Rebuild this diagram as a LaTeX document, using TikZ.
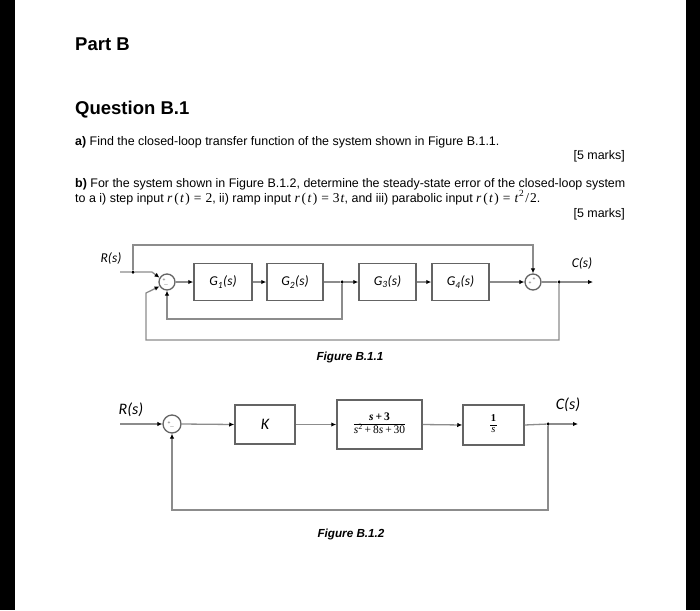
\documentclass[tikz,border=0pt]{standalone}
\usepackage{fontspec}
\setmainfont{Liberation Sans}
\newfontfamily\carl{Carlito}
\newfontfamily\tnr{Liberation Serif}
\usetikzlibrary{arrows.meta}
\definecolor{lin}{RGB}{140,140,140}
\definecolor{edge}{RGB}{100,100,100}
\newcommand{\mth}[1]{{\tnr\fontsize{13.5}{14}\selectfont #1}}
\newcommand{\rofT}{\textit{r}\kern1.8pt(\kern1.3pt\textit{t}\kern1.3pt)\kern4pt=\kern4pt}
\begin{document}
\begin{tikzpicture}[x=1pt,y=-1pt,
  wire/.style={draw=lin, line width=1.3pt},
  arr/.style={wire, -{Latex[length=5pt,width=4.5pt,color=black]}},
  blk/.style={draw=edge, line width=1.5pt, fill=white, inner sep=0pt},
  sumj/.style={circle, draw=edge, line width=1.3pt, minimum size=16pt, inner sep=0pt, fill=white},
  jdot/.style={circle, fill=black, inner sep=0pt, minimum size=3.5pt},
  sgn/.style={inner sep=0pt, font=\fontsize{5}{5}\selectfont, text=black!70},
  lab/.style={inner sep=0pt, font=\carl\itshape\fontsize{13.5}{15}\selectfont},
  labb/.style={inner sep=0pt, font=\carl\itshape\fontsize{16}{17}\selectfont},
  txt/.style={inner sep=0pt, anchor=base west, font=\fontsize{12.45}{14}\selectfont},
  txtr/.style={inner sep=0pt, anchor=base east, font=\fontsize{12.45}{14}\selectfont},
  head/.style={inner sep=0pt, anchor=base west, font=\bfseries\fontsize{18.5}{20}\selectfont},
  figl/.style={inner sep=0pt, font=\bfseries\itshape\fontsize{11.7}{13}\selectfont},
]
\useasboundingbox (0,0) rectangle (700,610);
\fill[white] (0,0) rectangle (700,610);
\fill[black] (0,0) rectangle (15,610);
\fill[black] (686,0) rectangle (700,610);

% ---- text ----
\node[head] (partb) at (75,51) {Part B};
\node[head] (quest) at (75,114) {Question B.1};
\node[txt] (qa) at (75,145) {\textbf{a)} Find the closed-loop transfer function of the system shown in Figure B.1.1.};
\node[txtr] (ma) at (625,159) {[5 marks]};
\node[txt] (qb1) at (75,187) {\textbf{b)} For the system shown in Figure B.1.2, determine the steady-state error of the closed-loop system};
\node[txt] (qb2) at (75,202) {to a i) step input \mth{\rofT 2}, ii) ramp input \mth{\rofT 3\kern1pt\textit{t}}, and iii) parabolic input \mth{\rofT\textit{t}\kern0.5pt\textsuperscript{2}\kern1pt/\kern1pt2}.};
\node[txtr] (mb) at (625,217) {[5 marks]};

% ---- Figure B.1.1 ----
\node[lab] (R1) at (111,258) {R(s)};
\node[lab] (C1) at (582,263) {C(s)};
\coordinate (rin1) at (120,272);
\node[jdot] (d1) at (133,272) {};
\node[sumj] (s1) at (167,282) {};
\node[sgn] (s1a) at ([xshift=-3pt,yshift=2pt]s1) {+};
\node[sgn] (s1b) at ([xshift=-1pt,yshift=-3pt]s1) {$-$};
\node[blk, minimum width=58pt, minimum height=37pt] (G1) at (223,282) {\carl\itshape\fontsize{13.5}{15}\selectfont G\textsubscript{1}(s)};
\node[blk, minimum width=56pt, minimum height=37pt] (G2) at (295,282) {\carl\itshape\fontsize{13.5}{15}\selectfont G\textsubscript{2}(s)};
\node[jdot] (d3) at (342,282) {};
\node[blk, minimum width=57pt, minimum height=37pt] (G3) at (387.5,282) {\carl\itshape\fontsize{13.5}{15}\selectfont G\textsubscript{3}(s)};
\node[blk, minimum width=57pt, minimum height=37pt] (G4) at (460.5,282) {\carl\itshape\fontsize{13.5}{15}\selectfont G\textsubscript{4}(s)};
\node[sumj] (s2) at (533,282) {};
\node[sgn] (s2a) at ([xshift=-3pt,yshift=-1pt]s2) {+};
\node[sgn] (s2b) at ([xshift=1pt,yshift=3pt]s2) {+};
\node[jdot] (d2) at (559,282) {};
\coordinate (out1) at (593,282);
\coordinate (b1) at (152,272);
\coordinate (t1) at (133,245);
\coordinate (t2) at (533,245);
\coordinate (o1) at (559,340);
\coordinate (o2) at (146,340);
\coordinate (o3) at (146,293);
\coordinate (i1) at (342,319);
\coordinate (i2) at (167,319);

\draw[arr] (rin1) -- (d1) -- (b1) -- (s1.150);
\draw[arr] (d1) -- (t1) -- (t2) -- (s2.north);
\draw[arr] (s1.east) -- (G1.west);
\draw[arr] (G1.east) -- (G2.west);
\draw[wire] (G2.east) -- (d3);
\draw[arr] (d3) -- (G3.west);
\draw[arr] (G3.east) -- (G4.west);
\draw[arr] (G4.east) -- (s2.west);
\draw[wire] (s2.east) -- (d2);
\draw[arr] (d2) -- (out1);
\draw[arr] (d3) -- (i1) -- (i2) -- (s1.south);
\draw[arr] (d2) -- (o1) -- (o2) -- (o3) -- (s1.210);
\node[figl] (fig1) at (350,357) {Figure B.1.1};

% ---- Figure B.1.2 ----
\node[labb] (R2) at (131,410) {R(s)};
\node[labb] (C2) at (568,405) {C(s)};
\coordinate (rin2) at (120,424);
\node[sumj, minimum size=18pt] (s3) at (172,424) {};
\node[sgn] (s3a) at ([xshift=-3pt,yshift=1pt]s3) {+};
\node[sgn] (s3b) at ([xshift=0pt,yshift=-3pt]s3) {$-$};
\node[blk, minimum width=60pt, minimum height=39pt] (K) at (265,424.5) {\carl\itshape\fontsize{16}{18}\selectfont K};
\node[blk, minimum width=85pt, minimum height=49pt] (TF) at (379.5,424.5) {\tnr\fontsize{11.5}{12}\selectfont\setlength{\tabcolsep}{0pt}\renewcommand{\arraystretch}{1.0}\begin{tabular}{c}\textbf{\textit{s}\,+\,3}\\\hline \textit{s}\textsuperscript{2}\,+\,8\textit{s}\,+\,30\end{tabular}};
\node[blk, minimum width=61pt, minimum height=40pt] (I) at (493.5,425) {\tnr\fontsize{10.5}{11}\selectfont\setlength{\tabcolsep}{0.5pt}\renewcommand{\arraystretch}{0.95}\begin{tabular}{c}\textbf{1}\\\hline \textit{s}\end{tabular}};
\node[jdot] (d4) at (548,424) {};
\coordinate (out2) at (578,424);
\coordinate (f1) at (548,510);
\coordinate (f2) at (172,510);

\draw[arr] (rin2) -- (s3.west);
\draw[arr] (s3.east) -- (K.west);
\draw[arr] (K.east) -- (TF.west);
\draw[arr] (TF.east) -- (I.west);
\draw[wire] (I.east) -- (d4);
\draw[arr] (d4) -- (out2);
\draw[arr] (d4) -- (f1) -- (f2) -- (s3.south);
\node[figl] (fig2) at (351,534) {Figure B.1.2};
\end{tikzpicture}
\end{document}
